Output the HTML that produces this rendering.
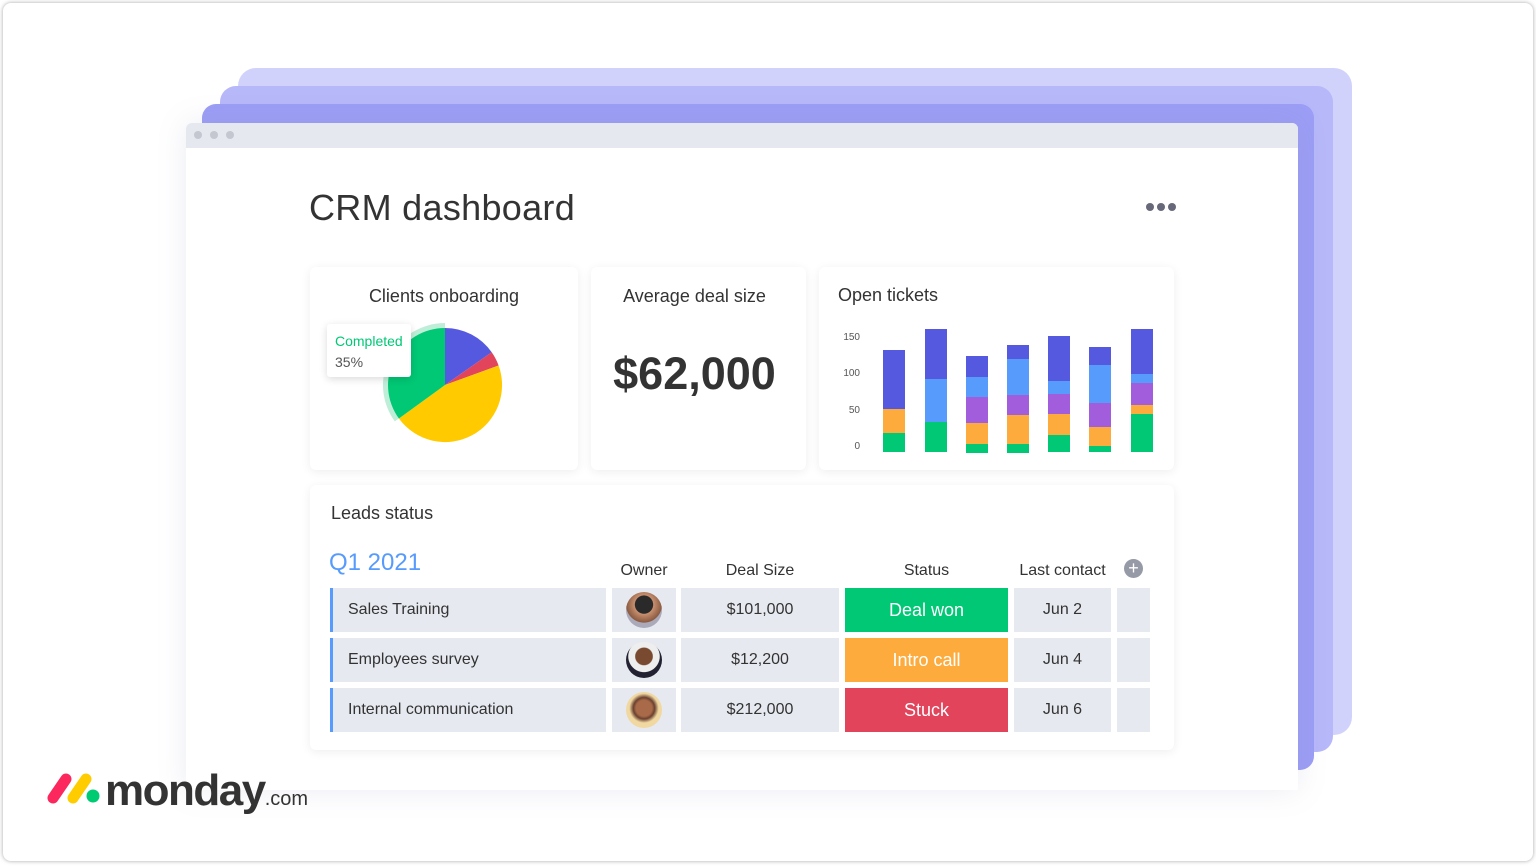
<!DOCTYPE html>
<html><head><meta charset="utf-8"><style>
*{margin:0;padding:0;box-sizing:border-box}
body{width:1536px;height:866px;background:#fff;position:relative;overflow:hidden;font-family:"Liberation Sans",sans-serif;color:#333}
.a{position:absolute}
.card{position:absolute;background:#fff;border-radius:6px;box-shadow:0 2px 10px rgba(0,0,0,.07)}
.cell{position:absolute;background:#e6e9ef;font-size:16px;color:#333;display:flex;align-items:center;justify-content:center}
.st{color:#fff;font-size:18px}
.av{width:36px;height:36px;border-radius:50%;}
</style></head><body>
<div class="a" style="left:3px;top:3px;width:1530px;height:858px;border-radius:8px;box-shadow:0 0 4px rgba(0,0,0,.35)"></div>
<div class="a" style="left:238px;top:68px;width:1114px;height:667px;background:#d1d2fb;border-radius:18px"></div>
<div class="a" style="left:220px;top:86px;width:1113px;height:666px;background:#b7b8f9;border-radius:16px"></div>
<div class="a" style="left:202px;top:104px;width:1112px;height:666px;background:#9c9ef6;border-radius:14px"></div>
<div class="a" style="left:186px;top:123px;width:1112px;height:667px;background:#fff;border-radius:6px 6px 0 0;box-shadow:0 0 30px rgba(120,130,170,.15)"></div>
<div class="a" style="left:186px;top:123px;width:1112px;height:25px;background:#e6e8ef;border-radius:6px 6px 0 0"></div>
<div class="a" style="left:194px;top:131px;width:8px;height:8px;border-radius:50%;background:#c5c7d0;box-shadow:16px 0 0 #c5c7d0,32px 0 0 #c5c7d0"></div>
<div class="a" style="left:309px;top:187px;font-size:36px;color:#333;letter-spacing:0.3px">CRM dashboard</div>
<div class="a" style="left:1146px;top:203px;width:8px;height:8px;border-radius:50%;background:#676879;box-shadow:11px 0 0 #676879,22px 0 0 #676879"></div>

<div class="card" style="left:310px;top:267px;width:268px;height:203px"></div>
<div class="a" style="left:310px;top:286px;width:268px;text-align:center;font-size:18px">Clients onboarding</div>
<svg class="a" style="left:0;top:0" width="1536" height="866">
<path d="M445 385 L394.8 421.4 A62 62 0 0 1 445 323 Z" fill="#bfeed8"/>
<path d="M445 385 L445 328 A57 57 0 0 1 491.7 352.3 Z" fill="#5559df"/>
<path d="M445 385 L491.7 352.3 A57 57 0 0 1 498.6 365.5 Z" fill="#e2445c"/>
<path d="M445 385 L498.6 365.5 A57 57 0 0 1 398.9 418.5 Z" fill="#ffcb00"/>
<path d="M445 385 L398.9 418.5 A57 57 0 0 1 445 328 Z" fill="#00c875"/>
</svg>
<div class="a" style="left:327px;top:324px;width:84px;height:53px;background:#fff;border-radius:3px;box-shadow:0 2px 8px rgba(0,0,0,.15)"></div>
<div class="a" style="left:335px;top:333px;font-size:14px;color:#00c875">Completed</div>
<div class="a" style="left:335px;top:354px;font-size:14px;color:#555">35%</div>

<div class="card" style="left:591px;top:267px;width:215px;height:203px"></div>
<div class="a" style="left:591px;top:286px;width:207px;text-align:center;font-size:18px">Average deal size</div>
<div class="a" style="left:591px;top:348px;width:207px;text-align:center;font-size:45px;font-weight:bold;color:#333">$62,000</div>

<div class="card" style="left:819px;top:267px;width:355px;height:203px"></div>
<div class="a" style="left:838px;top:285px;font-size:18px">Open tickets</div>
<svg class="a" style="left:0;top:0" width="1536" height="866" font-family="Liberation Sans" font-size="10" fill="#555">
<text x="860" y="340" text-anchor="end">150</text><text x="860" y="376" text-anchor="end">100</text><text x="860" y="413" text-anchor="end">50</text><text x="860" y="449" text-anchor="end">0</text>
<g>
<rect x="883" y="350" width="22" height="59" fill="#5559df"/><rect x="883" y="409" width="22" height="24" fill="#fdab3d"/><rect x="883" y="433" width="22" height="19" fill="#00c875"/>
<rect x="925" y="329" width="22" height="50" fill="#5559df"/><rect x="925" y="379" width="22" height="43" fill="#579bfc"/><rect x="925" y="422" width="22" height="30" fill="#00c875"/>
<rect x="966" y="356" width="22" height="21" fill="#5559df"/><rect x="966" y="377" width="22" height="20" fill="#579bfc"/><rect x="966" y="397" width="22" height="26" fill="#a25ddc"/><rect x="966" y="423" width="22" height="21" fill="#fdab3d"/><rect x="966" y="444" width="22" height="9" fill="#00c875"/>
<rect x="1007" y="345" width="22" height="14" fill="#5559df"/><rect x="1007" y="359" width="22" height="36" fill="#579bfc"/><rect x="1007" y="395" width="22" height="20" fill="#a25ddc"/><rect x="1007" y="415" width="22" height="29" fill="#fdab3d"/><rect x="1007" y="444" width="22" height="9" fill="#00c875"/>
<rect x="1048" y="336" width="22" height="45" fill="#5559df"/><rect x="1048" y="381" width="22" height="13" fill="#579bfc"/><rect x="1048" y="394" width="22" height="20" fill="#a25ddc"/><rect x="1048" y="414" width="22" height="21" fill="#fdab3d"/><rect x="1048" y="435" width="22" height="17" fill="#00c875"/>
<rect x="1089" y="347" width="22" height="18" fill="#5559df"/><rect x="1089" y="365" width="22" height="38" fill="#579bfc"/><rect x="1089" y="403" width="22" height="24" fill="#a25ddc"/><rect x="1089" y="427" width="22" height="19" fill="#fdab3d"/><rect x="1089" y="446" width="22" height="6" fill="#00c875"/>
<rect x="1131" y="329" width="22" height="45" fill="#5559df"/><rect x="1131" y="374" width="22" height="9" fill="#579bfc"/><rect x="1131" y="383" width="22" height="22" fill="#a25ddc"/><rect x="1131" y="405" width="22" height="9" fill="#fdab3d"/><rect x="1131" y="414" width="22" height="38" fill="#00c875"/>
</g></svg>

<div class="card" style="left:310px;top:485px;width:864px;height:265px"></div>
<div class="a" style="left:331px;top:503px;font-size:18px">Leads status</div>
<div class="a" style="left:329px;top:549px;font-size:24px;color:#579bfc">Q1 2021</div>
<div class="a" style="left:612px;top:562px;width:64px;text-align:center;font-size:16px">Owner</div>
<div class="a" style="left:681px;top:562px;width:158px;text-align:center;font-size:16px">Deal Size</div>
<div class="a" style="left:845px;top:562px;width:163px;text-align:center;font-size:16px">Status</div>
<div class="a" style="left:1014px;top:562px;width:97px;text-align:center;font-size:16px">Last contact</div>
<div class="a" style="left:1124px;top:559px;width:19px;height:19px;border-radius:50%;background:#9699a6;color:#fff;font-size:18px;line-height:19px;text-align:center">+</div>

<div class="cell" style="left:330px;top:588px;width:276px;height:44px;justify-content:flex-start;padding-left:15px;border-left:3px solid #579bfc">Sales Training</div>
<div class="cell" style="left:612px;top:588px;width:64px;height:44px"><div class="av" style="background:radial-gradient(circle at 50% 35%,#2a2a2a 30%,#c89070 32%,#8a5a40 60%,#aab 62%)"></div></div>
<div class="cell" style="left:681px;top:588px;width:158px;height:44px">$101,000</div>
<div class="cell st" style="left:845px;top:588px;width:163px;height:44px;background:#00c875">Deal won</div>
<div class="cell" style="left:1014px;top:588px;width:97px;height:44px">Jun 2</div>
<div class="cell" style="left:1117px;top:588px;width:33px;height:44px"></div>

<div class="cell" style="left:330px;top:638px;width:276px;height:44px;justify-content:flex-start;padding-left:15px;border-left:3px solid #579bfc">Employees survey</div>
<div class="cell" style="left:612px;top:638px;width:64px;height:44px"><div class="av" style="background:radial-gradient(circle at 50% 40%,#7a4a30 30%,#eee 33%,#eee 55%,#223 57%)"></div></div>
<div class="cell" style="left:681px;top:638px;width:158px;height:44px">$12,200</div>
<div class="cell st" style="left:845px;top:638px;width:163px;height:44px;background:#fdab3d">Intro call</div>
<div class="cell" style="left:1014px;top:638px;width:97px;height:44px">Jun 4</div>
<div class="cell" style="left:1117px;top:638px;width:33px;height:44px"></div>

<div class="cell" style="left:330px;top:688px;width:276px;height:44px;justify-content:flex-start;padding-left:15px;border-left:3px solid #579bfc">Internal communication</div>
<div class="cell" style="left:612px;top:688px;width:64px;height:44px"><div class="av" style="background:radial-gradient(circle at 50% 45%,#a86a48 30%,#6a4030 40%,#f0d8a0 55%)"></div></div>
<div class="cell" style="left:681px;top:688px;width:158px;height:44px">$212,000</div>
<div class="cell st" style="left:845px;top:688px;width:163px;height:44px;background:#e2445c">Stuck</div>
<div class="cell" style="left:1014px;top:688px;width:97px;height:44px">Jun 6</div>
<div class="cell" style="left:1117px;top:688px;width:33px;height:44px"></div>

<svg class="a" style="left:40px;top:770px" width="70" height="40">
<line x1="13" y1="28" x2="26" y2="9" stroke="#fb275d" stroke-width="11" stroke-linecap="round"/>
<line x1="33" y1="28" x2="46" y2="9" stroke="#ffcc00" stroke-width="11" stroke-linecap="round"/>
<circle cx="53" cy="26" r="6.5" fill="#00ca72"/>
</svg>
<div class="a" style="left:105px;top:766px;font-size:44px;font-weight:bold;color:#333;letter-spacing:-1.5px">monday<span style="font-size:20px;font-weight:normal;letter-spacing:0">.com</span></div>
</body></html>
